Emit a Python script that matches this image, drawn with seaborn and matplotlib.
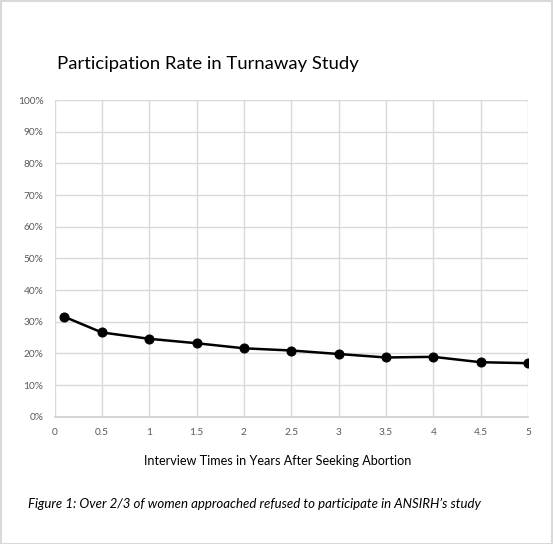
import matplotlib
matplotlib.use("Agg")
import matplotlib.pyplot as plt
from matplotlib.patches import Rectangle
from matplotlib.ticker import PercentFormatter
import numpy as np
import pandas as pd
import seaborn as sns

# datos
years = [0.1, 0.5, 1, 1.5, 2, 2.5, 3, 3.5, 4, 4.5, 5]
rate = [31.6, 26.6, 24.6, 23.2, 21.6, 20.9, 19.8, 18.7, 18.9, 17.2, 16.9]
x_ticks = [0, 0.5, 1, 1.5, 2, 2.5, 3, 3.5, 4, 4.5, 5]
x_tick_labels = ["0", "0.5", "1", "1.5", "2", "2.5", "3", "3.5", "4", "4.5", "5"]
y_ticks = list(range(0, 101, 10))

title = "Participation Rate in Turnaway Study"
x_label = "Interview Times in Years After Seeking Abortion"
caption = "Figure 1: Over 2/3 of women approached refused to participate in ANSIRH\u2019s study"

df = pd.DataFrame({"years": years, "rate": rate})

sns.set_theme(style="white")
plt.rcParams["font.family"] = ["Lato", "DejaVu Sans"]

W, H = 553, 544
fig = plt.figure(figsize=(W / 100, H / 100), dpi=100)
ax = fig.add_axes([54.5 / W, 1 - 416.7 / H, (528 - 54.5) / W, (416.7 - 100) / H])

sns.lineplot(data=df, x="years", y="rate", ax=ax, color="black", linewidth=1.8,
             marker="o", markersize=6.5, markeredgecolor="black", markerfacecolor="black")

ax.set_xlim(0, 5)
ax.set_ylim(0, 100)
ax.set_xticks(x_ticks)
ax.set_xticklabels(x_tick_labels)
ax.set_yticks(y_ticks)
ax.yaxis.set_major_formatter(PercentFormatter(decimals=0))
ax.grid(True, color="#d9d9d9", linewidth=1)
ax.set_axisbelow(True)
for s in ["top", "right", "left"]:
    ax.spines[s].set_visible(False)
ax.spines["bottom"].set_color("#d0d0d0")
ax.tick_params(axis="both", labelsize=7.3, colors="#595959", length=0, pad=8)
ax.set_xlabel("")
ax.set_ylabel("")

fig.text(57 / W, 1 - 64 / H, title, fontsize=13.3, color="black", va="center", ha="left")
fig.text(0.5 * (144 + 411) / W, 1 - 461 / H, x_label, fontsize=9.1, color="black",
         va="center", ha="center")
fig.text(28 / W, 1 - 504 / H, caption, fontsize=9.5, style="italic", color="black",
         va="center", ha="left")

# marco gris del grafico
fig.patches.append(Rectangle((0.5 / W, 0.5 / H), 1 - 1.5 / W, 1 - 1.5 / H,
                             transform=fig.transFigure, fill=False,
                             edgecolor="#d9d9d9", linewidth=1.5))

fig.savefig("out.png", dpi=100)
